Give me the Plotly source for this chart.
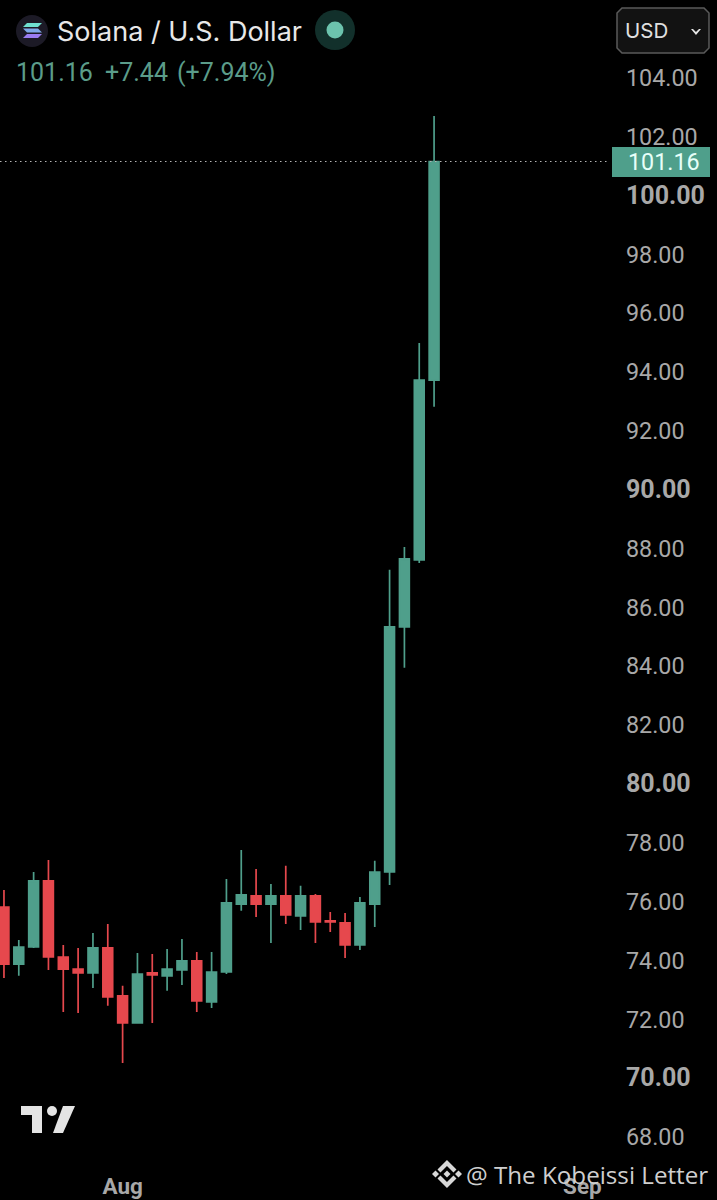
import pandas as pd
import plotly.graph_objects as go

W = 717
H = 1200

# daily candles
dates = pd.date_range("2024-07-24", periods=30, freq="D")
opens = [75.82, 73.88, 74.46, 76.71, 74.12, 73.71, 73.58, 74.43, 72.80, 71.88,
         73.58, 73.48, 73.68, 73.99, 72.59, 73.61, 75.92, 76.20, 75.92, 76.20,
         75.52, 76.20, 75.35, 75.28, 74.53, 75.92, 77.01, 85.34, 87.62, 93.73]
highs = [76.40, 74.70, 77.01, 77.42, 74.53, 74.43, 74.94, 75.24, 73.14, 74.26,
         74.22, 74.39, 74.73, 74.29, 74.29, 76.77, 77.76, 77.11, 76.60, 77.22,
         76.54, 76.26, 75.65, 75.62, 76.16, 77.39, 87.28, 88.06, 94.99, 102.71]
lows = [73.41, 73.48, 74.43, 73.68, 72.25, 72.22, 73.07, 72.46, 70.52, 71.88,
        71.88, 72.97, 73.17, 72.25, 72.39, 73.54, 75.69, 75.48, 74.60, 75.24,
        75.04, 74.60, 74.97, 74.09, 74.36, 75.14, 76.57, 83.95, 87.51, 92.82]
closes = [73.88, 74.46, 76.71, 74.12, 73.71, 73.58, 74.43, 72.76, 71.88, 73.54,
          73.51, 73.71, 73.99, 72.63, 73.61, 75.96, 76.23, 75.92, 76.20, 75.55,
          76.20, 75.31, 75.31, 74.53, 75.96, 77.01, 85.34, 87.65, 93.73, 101.16]

last_price = 101.16
price_ticks = [68, 70, 72, 74, 76, 78, 80, 82, 84, 86, 88, 90, 92, 94, 96, 98, 100, 102, 104]
bold_ticks = [70, 80, 90, 100]
# the round tens are drawn bolder and a little wider
price_labels = ['<b><span style="font-size:25px">%.2f</span></b>' % p if p in bold_ticks else "%.2f" % p
                for p in price_ticks]
month_ticks = ["2024-08-01", "2024-09-01"]
month_labels = ["<b>Aug</b>", "<b>Sep</b>"]

GREEN = "#4f9f8b"
RED = "#e6484d"
FONT = "Roboto"


def px(x, y):
    return x / W, 1 - y / H


def path(points):
    parts = []
    for i, (x, y) in enumerate(points):
        u, v = px(x, y)
        parts.append(("M" if i == 0 else "L") + "%.5f,%.5f" % (u, v))
    return " ".join(parts) + " Z"


def poly(points, color):
    return dict(type="path", xref="paper", yref="paper", path=path(points),
                fillcolor=color, line=dict(width=0), layer="above")


def circle(cx, cy, r, color):
    x0, y0 = px(cx - r, cy - r)
    x1, y1 = px(cx + r, cy + r)
    return dict(type="circle", xref="paper", yref="paper", x0=x0, y0=y0, x1=x1, y1=y1,
                fillcolor=color, line=dict(width=0), layer="above")


def diamond(cx, cy, r, color):
    return poly([(cx, cy - r), (cx + r, cy), (cx, cy + r), (cx - r, cy)], color)


def label(text, x, y, size, color, anchor="left", family=FONT):
    u, v = px(x, y)
    return dict(text=text, x=u, y=v, xref="paper", yref="paper", xanchor=anchor, yanchor="middle",
                showarrow=False, font=dict(family=family, size=size, color=color), borderpad=0)


fig = go.Figure(go.Candlestick(
    x=dates, open=opens, high=highs, low=lows, close=closes,
    whiskerwidth=0,
    increasing=dict(line=dict(color=GREEN, width=1.7), fillcolor=GREEN),
    decreasing=dict(line=dict(color=RED, width=1.7), fillcolor=RED),
    showlegend=False, hoverinfo="skip",
))

shapes = [
    # last price line and tag
    dict(type="line", xref="paper", yref="y", x0=0, x1=610 / W, y0=last_price, y1=last_price,
         line=dict(color="#b4b4b4", width=1.2, dash="1.5px,3.5px"), layer="above"),
    dict(type="rect", xref="paper", yref="paper", x0=612 / W, x1=710 / W, y0=1 - 177 / H, y1=1 - 147 / H,
         fillcolor=GREEN, line=dict(width=0), layer="above"),
    # USD selector
    dict(type="path", xref="paper", yref="paper",
         path=path([(622, 8), (704, 8), (709, 13), (709, 48), (704, 53), (622, 53), (617, 48), (617, 13)]),
         fillcolor="#121212", line=dict(color="#5a5a5a", width=1.5), layer="above"),
    poly([(691, 29), (693, 29), (696, 32), (699, 29), (701, 29), (696, 35)], "#e6e6e6"),
    # solana badge
    circle(32, 31, 16, "#1c1a26"),
    poly([(27, 23), (42, 23), (38, 27), (23, 27)], "#6fe0d0"),
    poly([(23, 28.5), (38, 28.5), (42, 32.5), (27, 32.5)], "#7fa8e8"),
    poly([(27, 34), (42, 34), (38, 38), (23, 38)], "#9a7cf0"),
    # status dot
    circle(335, 30, 20, "#12302b"),
    circle(335, 30, 8.5, "#6cc3ad"),
    # tradingview logo
    poly([(21, 1106), (42, 1106), (42, 1133), (32, 1133), (32, 1115), (21, 1115)], "#e4e4e4"),
    circle(52, 1111, 5, "#e4e4e4"),
    poly([(63, 1106), (75, 1106), (63, 1133), (53, 1133)], "#e4e4e4"),
    # binance mark
    poly([(447, 1160), (456.5, 1169.5), (453.5, 1172.5), (447, 1166), (440.5, 1172.5), (437.5, 1169.5)], "#d8d8d8"),
    poly([(447, 1188), (456.5, 1178.5), (453.5, 1175.5), (447, 1182), (440.5, 1175.5), (437.5, 1178.5)], "#d8d8d8"),
    diamond(435.5, 1174, 3.5, "#d8d8d8"),
    diamond(458.5, 1174, 3.5, "#d8d8d8"),
    diamond(447, 1174, 3.5, "#d8d8d8"),
]

annotations = [
    label("Solana / U.S. Dollar", 55.5, 31, 27, "#e8e8e8", family="Inter"),
    label("101.16", 14.5, 72, 25, "#5b9c8a"),
    label("+7.44", 103.5, 72, 25, "#5b9c8a"),
    label("(+7.94%)", 175.5, 72, 25, "#5b9c8a"),
    label("USD", 624, 30, 20.5, "#e0e0e0", family="Inter"),
    label("101.16", 626.5, 162, 23.3, "#e6fff8"),
    label("@ The Kobeissi Letter", 465, 1174, 24.2, "#cfcfcf", family="Open Sans"),
]

fig.update_layout(
    width=W, height=H,
    margin=dict(l=0, r=0, t=0, b=0),
    paper_bgcolor="#000000", plot_bgcolor="#000000",
    shapes=shapes, annotations=annotations,
    boxgap=0.055,
    xaxis=dict(
        domain=[0, 625 / W], range=["2024-07-23 17:36", "2024-09-03 20:57"],
        rangeslider=dict(visible=False), showgrid=False, zeroline=False, showline=False,
        tickmode="array", tickvals=month_ticks, ticktext=month_labels, ticks="",
        tickfont=dict(family="Roboto", size=22.5, color="#a8a8a8"),
    ),
    yaxis=dict(
        domain=[1 - 1170 / H, 1], range=[66.88, 106.65], side="right",
        showgrid=False, zeroline=False, showline=False,
        tickmode="array", tickvals=price_ticks, ticktext=price_labels, ticks="",
        tickfont=dict(family=FONT, size=23.3, color="#a8a8a8"),
    ),
)

fig.write_html("out.html", config={"displayModeBar": False},
               post_script="document.body.style.margin='0';")
